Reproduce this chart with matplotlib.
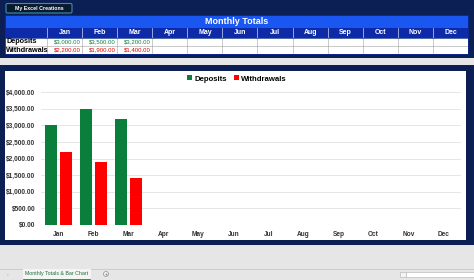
import numpy as np
import matplotlib
matplotlib.use("Agg")
import matplotlib.pyplot as plt
from matplotlib.patches import Rectangle, FancyBboxPatch, Circle
from matplotlib.ticker import FuncFormatter

months = ["Jan", "Feb", "Mar", "Apr", "May", "Jun", "Jul", "Aug", "Sep", "Oct", "Nov", "Dec"]
deposits = [3000, 3500, 3200]
withdrawals = [2200, 1900, 1400]
row_labels = ["Deposits", "Withdrawals"]
table_title = "Monthly Totals"
button_text = "My Excel Creations"
sheet_tab = "Monthly Totals & Bar Chart"

W, H = 474, 280
navy = "#0b1f55"
green = "#0a7f3c"
red = "#ff0000"
plt.rcParams["font.family"] = ["Liberation Sans", "DejaVu Sans"]

fig = plt.figure(figsize=(W / 100, H / 100), dpi=100)
bg = fig.add_axes([0, 0, 1, 1])
bg.set_xlim(0, W)
bg.set_ylim(H, 0)
bg.axis("off")

def box(x0, y0, x1, y1, fc, ec="none", lw=0, z=1):
    bg.add_patch(Rectangle((x0, y0), x1 - x0, y1 - y0, facecolor=fc, edgecolor=ec, linewidth=lw, zorder=z))

# page background
box(0, 0, W, H, "#e6e6e6", z=0)
box(0, 0, W, 58, navy)
box(0, 65, W, 245, navy)
box(5, 71, 466, 240, "white", z=2)

# button
bg.add_patch(FancyBboxPatch((6, 3.5), 66, 9.5, boxstyle="round,pad=0,rounding_size=1.5",
                            facecolor="#0a1a2e", edgecolor="#3a8fb0", linewidth=0.8, zorder=3))
bg.text(39, 8.4, button_text, color="white", fontsize=3.8, fontweight="bold",
        ha="center", va="center", zorder=4)

# table
tx0, tx1 = 5, 468
lab_w = 47
col_w = (tx1 - lab_w) / 12
box(tx0, 15, tx1, 28, "#1a56f0", ec="#0a2a90", lw=0.5, z=3)
bg.text((tx0 + tx1) / 2, 21.7, table_title, color="white", fontsize=6.5, fontweight="bold",
        ha="center", va="center", zorder=4)
box(tx0, 28, tx1, 37.5, "#0d2aa8", z=3)
box(tx0, 37.5, tx1, 54, "white", z=3)
for i, m in enumerate(months):
    cx0 = lab_w + i * col_w
    bg.plot([cx0, cx0], [28, 37.5], color="#d0d8f0", lw=0.5, zorder=4)
    bg.plot([cx0, cx0], [37.5, 54], color="#a0a0a0", lw=0.4, zorder=4)
    bg.text(cx0 + col_w / 2, 32.9, m, color="white", fontsize=5, fontweight="bold",
            ha="center", va="center", zorder=4)
bg.plot([tx0, tx1], [45.7, 45.7], color="#a0a0a0", lw=0.4, zorder=4)
bg.plot([tx0, tx1], [37.5, 37.5], color="#0a2a90", lw=0.5, zorder=4)
bg.add_patch(Rectangle((tx0, 15), tx1 - tx0, 39, fill=False, edgecolor="#0a2a90", lw=0.6, zorder=5))
for r, (lab, vals, col) in enumerate([(row_labels[0], deposits, green), (row_labels[1], withdrawals, "#e00000")]):
    y = 41.8 + r * 8.2
    bg.text(tx0 + 1.2, y, lab, color="black", fontsize=5.2, fontweight="bold", ha="left", va="center", zorder=4)
    for i, v in enumerate(vals):
        bg.text(lab_w + (i + 1) * col_w - 1.5, y, f"${v:,.2f}", color=col, fontsize=4.3,
                ha="right", va="center", zorder=4)

# sheet tabs
bg.plot([0, W], [268.5, 268.5], color="#c8c8c8", lw=0.6, zorder=3)
box(23, 268.5, 91, 280, "#f4f4f4", z=3)
bg.plot([24, 90], [279.5, 279.5], color="#1e7a3c", lw=1.2, zorder=4)
bg.text(57, 274, sheet_tab, color="#1e6e3a", fontsize=3.8, ha="center", va="center", zorder=4)
bg.text(8, 274, "\u2039", color="#b0b0b0", fontsize=4, ha="center", va="center", zorder=4)
bg.add_patch(Circle((106, 274), 2.5, facecolor="#f0f0f0", edgecolor="#909090", lw=0.5, zorder=4))
bg.text(106, 274, "+", color="#606060", fontsize=3.5, ha="center", va="center", zorder=5)
box(400, 271.5, 406, 276.5, "#f4f4f4", ec="#b0b0b0", lw=0.4, z=4)
box(406, 271.5, W, 276.5, "white", ec="#b0b0b0", lw=0.4, z=4)

# chart
ax = fig.add_axes([41 / W, 1 - 225 / H, 420 / W, 133 / H])
ax.set_zorder(5)
ax.patch.set_alpha(0)
x = np.arange(len(months))
n = len(deposits)
bw = 0.343
ax.bar(x[:n] - 0.214, deposits, bw, color=green, label="Deposits", zorder=3)
ax.bar(x[:n] + 0.214, withdrawals, bw, color=red, label="Withdrawals", zorder=3)
ax.set_xlim(-0.5, 11.5)
ax.set_ylim(0, 4000)
ax.set_yticks(np.arange(0, 4001, 500))
ax.yaxis.set_major_formatter(FuncFormatter(lambda v, p: f"${v:,.2f}"))
ax.set_xticks(x)
ax.set_xticklabels(months)
ax.grid(axis="y", color="#e2e2e2", lw=0.6, zorder=0)
for s in ax.spines.values():
    s.set_visible(False)
ax.tick_params(length=0, labelsize=4.7, colors="#333333", pad=4)
for t in ax.get_xticklabels() + ax.get_yticklabels():
    t.set_fontweight("bold")
ax.legend(ncol=2, loc="center", bbox_to_anchor=(237 / W, 1 - 79 / H), bbox_transform=fig.transFigure,
          frameon=False, handlelength=0.6, handleheight=0.6, handletextpad=0.3, columnspacing=0.9,
          prop={"size": 5.6, "weight": "bold"})

fig.savefig("out.png", dpi=100)
